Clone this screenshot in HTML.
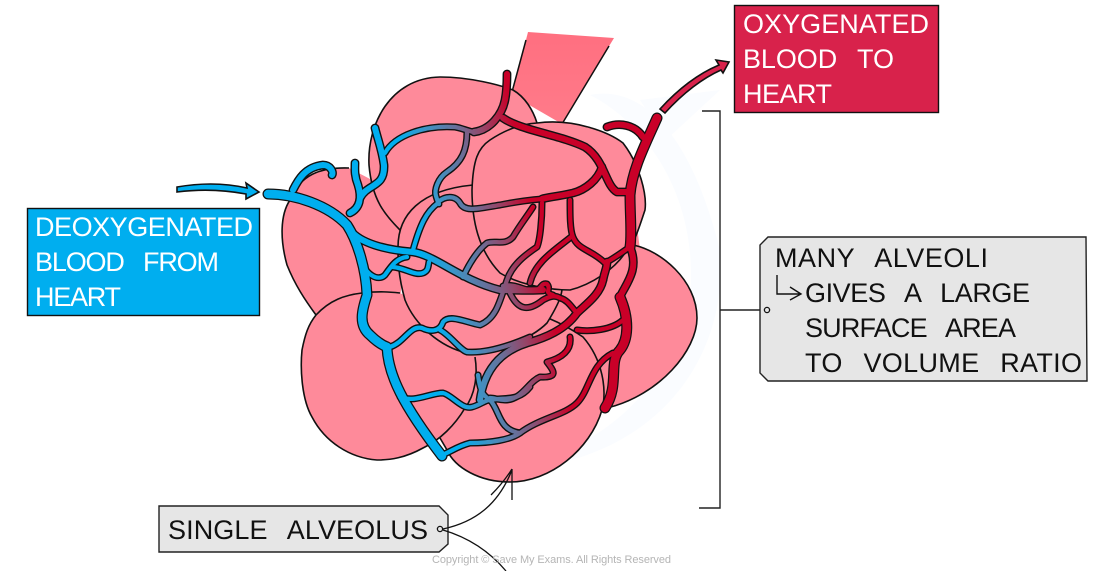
<!DOCTYPE html>
<html><head><meta charset="utf-8"><style>
html,body{margin:0;padding:0;background:#fff}
svg{display:block}
text{font-family:"Liberation Sans",sans-serif}
.t{font-size:27px;word-spacing:13px}
</style></head><body>
<svg width="1100" height="571" viewBox="0 0 1100 571" xmlns="http://www.w3.org/2000/svg">
<defs>
<linearGradient id="v" gradientUnits="userSpaceOnUse" x1="410" y1="200" x2="525" y2="177">
<stop offset="0" stop-color="#00aeef"/><stop offset=".25" stop-color="#3d94c6"/><stop offset=".5" stop-color="#67709a"/><stop offset=".72" stop-color="#94476a"/><stop offset="1" stop-color="#c90028"/>
</linearGradient>
<linearGradient id="tr" x1="0" y1="0" x2="0" y2="1"><stop offset="0" stop-color="#ff6f80"/><stop offset="1" stop-color="#ff7b8a"/></linearGradient>
<g id="thick">
<path d="M268 194C295 194 328 205 347 225C358 242 366 270 367 295C362 310 358 325 370 335C375 340 382 345 387 347"/>
<path d="M387 347C388 375 403 405 442 456"/>
<path d="M657 118C645 145 632 170 630 195C630 215 632 235 630 247"/>
<path d="M620 297C630 320 628 340 620 350C608 362 620 385 605 408"/>
</g>
<g id="med">
<path d="M293 190C298 180 305 167 323 165C330 165 334 172 332 175"/>
<path d="M350 213C360 208 362 198 358 185C354 175 355 168 355 163"/>
<path d="M360 198C368 183 385 188 384 165C382 150 378 140 375 128"/>
<path d="M350 230C360 243 385 250 413 252C435 255 460 280 500 290C515 290 530 291 543 290"/>
<path d="M474 132C490 130 502 115 505 100C507 90 507 82 507 74"/>
<path d="M503 118C520 130 560 135 585 147C605 160 605 185 617 192L630 192"/>
<path d="M643 137C635 125 620 122 607 127"/>
<path d="M630 247C640 270 625 285 620 297"/>
<path d="M602 167C598 180 585 190 573 193C555 197 548 197 542 199"/>
<path d="M603 280C600 295 585 305 577 313C565 330 545 338 527 343C505 350 485 365 480 400"/>
<path d="M603 280C605 270 607 268 607 262"/>
</g>
<g id="thin">
<path d="M385 153C395 135 425 125 455 127C462 128 467 131 474 132"/>
<path d="M467 132C467 150 462 162 447 172C438 178 434 190 436 196C437 200 438 202 439 204"/>
<path d="M438 203C426 212 420 225 413 250"/>
<path d="M438 202C445 196 455 195 460 203C465 213 480 208 500 205C515 202 530 200 542 199"/>
<path d="M360 257C365 275 378 282 385 275C392 265 397 258 407 257"/>
<path d="M393 267C405 268 415 276 423 273C428 271 428 268 429 262"/>
<path d="M463 277C470 262 478 250 487 243C495 240 505 246 513 237C520 225 528 215 533 207"/>
<path d="M542 203C542 220 540 240 537 247C525 255 512 265 507 280C500 300 497 318 480 325C465 322 450 314 443 322C440 332 430 332 422 328C410 325 405 342 390 347"/>
<path d="M440 330C450 335 460 350 467 352C480 353 500 350 530 337"/>
<path d="M570 200C570 215 570 230 573 237C578 250 592 250 605 263C615 258 625 250 630 247"/>
<path d="M571 237C555 250 535 262 530 283"/>
<path d="M510 293C518 310 528 312 543 300C550 296 555 295 560 298C568 300 572 308 577 313"/>
<path d="M577 330C590 332 612 330 623 320"/>
<path d="M570 337C572 350 562 358 547 362C553 370 560 378 540 377C528 382 522 400 505 400C498 400 495 398 490 398"/>
<path d="M400 397C415 403 430 393 443 393C452 395 462 410 472 407C480 405 485 400 490 400"/>
<path d="M490 400C500 410 498 430 520 433C510 440 490 443 470 443C458 446 450 452 442 455"/>
<path d="M520 433C540 418 565 415 577 403C590 390 590 365 613 353"/>
<path d="M490 400C505 397 518 402 530 387"/>
<path d="M478 375C480 390 482 395 490 400"/>
<path d="M503 286C515 283 527 292 532 290C542 292 540 282 547 284C552 290 543 292 553 295"/>
</g>
</defs>
<!-- faint watermark -->
<path d="M590 95C640 85 690 130 720 250C730 370 640 480 470 470C560 470 660 420 690 300C700 190 640 120 590 95Z" fill="#fafcff"/>
<path d="M660 130L640 100L720 90L655 150Z" fill="#fafcff"/>
<!-- trachea -->
<path d="M528 32L614 38L562 124L512 95Z" fill="url(#tr)"/>
<path d="M526 40L512 92M609 46L562 124" stroke="#111" stroke-width="1.5" fill="none"/>
<!-- backing -->
<path d="M420 170L630 170L640 250L610 400L460 445L420 380Z" fill="#fe8a9a"/>
<g fill="#fe8a9a" stroke="none">
<path d="M349 168C320 167 300 175 290 200C280 215 280 240 287 265C295 285 305 300 316 315L400 300L410 200Z"/>
<path d="M400 230C385 215 372 200 369 165C367 125 390 78 440 77C470 77 500 85 513 90C525 97 533 110 537 123L500 230Z"/>
<path d="M633 245C660 250 697 280 697 318C697 350 660 395 607 408L560 300Z"/>
</g>
<g fill="none" stroke="#111" stroke-width="1.6">
<path d="M349 168C320 167 300 175 290 200C280 215 280 240 287 265C295 285 305 300 316 315"/>
<path d="M400 230C385 215 372 200 369 165C367 125 390 78 440 77C470 77 500 85 513 90C525 97 533 110 537 123"/>
<path d="M633 245C660 250 697 280 697 318C697 350 660 395 607 408"/>
</g>
<path d="M440 438L447 450C455 468 480 482 510 482C550 482 590 450 602 410C607 390 603 360 583 337C570 328 560 323 548 318L470 380Z" fill="#fe8a9a"/>
<path d="M440 438L447 450C455 468 480 482 510 482C550 482 590 450 602 410C607 390 603 360 583 337C570 328 560 323 548 318" fill="none" stroke="#111" stroke-width="1.6"/>
<path d="M475 357C478 375 475 395 465 408C455 425 440 440 423 448C405 458 390 460 377 460C350 458 325 442 312 417C302 400 300 370 302 350C305 335 308 325 316 315C330 300 345 295 362 293C380 291 390 292 400 293L470 330Z" fill="#fe8a9a"/>
<path d="M475 357C478 375 475 395 465 408C455 425 440 440 423 448C405 458 390 460 377 460C350 458 325 442 312 417C302 400 300 370 302 350C305 335 308 325 316 315C330 300 345 295 362 293C380 291 390 292 400 293" fill="none" stroke="#111" stroke-width="1.6"/>
<path d="M398 247C398 215 420 190 473 185L560 280C567 290 555 310 547 323C530 340 500 350 467 353C440 347 415 325 405 300C398 275 398 260 398 247Z" fill="#fe8a9a" stroke="#111" stroke-width="1.6"/>
<path d="M537 123C520 124 505 130 490 140C478 148 473 160 472 190C472 220 478 250 500 273C520 285 550 290 570 290C590 285 615 270 627 250C634 245 640 225 645 210C647 195 640 165 623 143C610 133 575 118 537 123Z" fill="#fe8a9a" stroke="#111" stroke-width="1.6"/>
<!-- vessels -->
<g fill="none" stroke-linecap="round" stroke-linejoin="round">
<use href="#thick" stroke="#111" stroke-width="11"/>
<use href="#med" stroke="#111" stroke-width="8.8"/>
<use href="#thin" stroke="#111" stroke-width="7"/>
<use href="#thick" stroke="url(#v)" stroke-width="8.5"/>
<use href="#med" stroke="url(#v)" stroke-width="6"/>
<use href="#thin" stroke="url(#v)" stroke-width="4.2"/>
</g>
<!-- arrows -->
<path d="M177 187C200 183 225 183 247 188L246 183L259 192L246 199L246 194C225 190 200 189 177 192Z" fill="#00aeef" stroke="#111" stroke-width="1.6"/>
<path d="M660 109C680 87 700 73 719 65L716 60L729 62L723 73L721 70C703 78 683 93 665 113Z" fill="#d8224b" stroke="#111" stroke-width="1.6"/>
<!-- bracket -->
<path d="M702 111H720V508H699M720 310H765" fill="none" stroke="#222" stroke-width="1.4"/>
<!-- boxes -->
<rect x="27.5" y="208.5" width="232" height="107" fill="#00aeef" stroke="#111" stroke-width="1.4"/>
<g class="t" fill="#fff">
<text x="35" y="236" textLength="218" lengthAdjust="spacing">DEOXYGENATED</text>
<text x="35" y="271" textLength="184" lengthAdjust="spacing">BLOOD FROM</text>
<text x="35" y="306" textLength="86" lengthAdjust="spacing">HEART</text>
</g>
<rect x="734.5" y="5.5" width="204" height="107" fill="#d8224b" stroke="#111" stroke-width="1.4"/>
<g class="t" fill="#fff">
<text x="743" y="33" textLength="186" lengthAdjust="spacing">OXYGENATED</text>
<text x="743" y="68" textLength="151" lengthAdjust="spacing">BLOOD TO</text>
<text x="743" y="103" textLength="89" lengthAdjust="spacing">HEART</text>
</g>
<path d="M768 237H1086L1087 381H768L760 373V245Z" fill="#e6e6e6" stroke="#222" stroke-width="1.4"/>
<circle cx="767" cy="310" r="2.6" fill="none" stroke="#111" stroke-width="1.3"/>
<g class="t" fill="#111">
<text x="775" y="267" textLength="213" lengthAdjust="spacing">MANY ALVEOLI</text>
<text x="805" y="302" textLength="225" lengthAdjust="spacing">GIVES A LARGE</text>
<text x="805" y="337" textLength="211" lengthAdjust="spacing">SURFACE AREA</text>
<text x="805" y="372" textLength="277" lengthAdjust="spacing">TO VOLUME RATIO</text>
</g>
<path d="M777 275V294H800M790 287L801 294L790 300" fill="none" stroke="#111" stroke-width="1.4"/>
<path d="M159 506H439L448 515V544L439 552H159Z" fill="#e6e6e6" stroke="#222" stroke-width="1.4"/>
<text class="t" x="168" y="539" textLength="260" lengthAdjust="spacing" fill="#111">SINGLE ALVEOLUS</text>
<circle cx="440" cy="529" r="2.6" fill="none" stroke="#111" stroke-width="1.3"/>
<path d="M443 529C475 522 498 505 512 470M512 469V500M512 469C505 480 498 488 491 495M443 530C470 538 490 552 506 571" fill="none" stroke="#111" stroke-width="1.3"/>
<text x="432" y="563" font-size="11" fill="#b5b5b5" textLength="239" lengthAdjust="spacing">Copyright © Save My Exams. All Rights Reserved</text>
</svg>
</body></html>
